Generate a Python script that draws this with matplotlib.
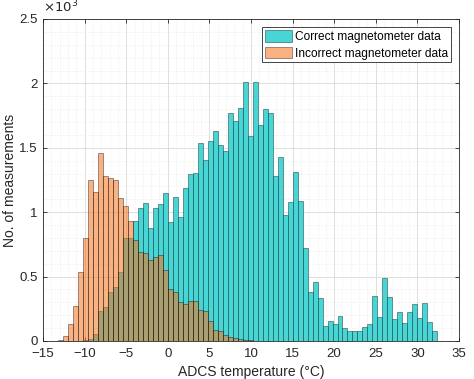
import numpy as np
import matplotlib
matplotlib.use("Agg")
import matplotlib.pyplot as plt
from matplotlib.ticker import MultipleLocator

# === histogram data (counts per 0.6 °C bin, first bin starts at -13.2 °C) ===
bin_start = -13.2
bin_width = 0.6

correct_counts = [
    0, 0, 0, 0, 0, 5, 13, 52, 233, 266,
    378, 422, 538, 800, 802, 932, 1030, 1075, 875, 1030,
    1062, 1147, 922, 1115, 962, 1190, 1299, 1302, 1540, 1405,
    1555, 1630, 1522, 1478, 1768, 1711, 1807, 2009, 1592, 2013,
    1675, 1799, 1773, 1281, 1426, 975, 1082, 1310, 1085, 720,
    377, 456, 331, 114, 155, 130, 195, 97, 80, 80,
    80, 111, 130, 352, 184, 487, 341, 170, 223, 137,
    223, 287, 181, 297, 150, 80,
]
incorrect_counts = [
    8, 39, 130, 272, 538, 797, 1250, 1154, 1462, 1281,
    1263, 1250, 1108, 1045, 932, 784, 693, 681, 627, 650,
    665, 551, 400, 380, 305, 290, 308, 310, 244, 235,
    157, 85, 80, 47, 33, 27, 18, 10, 5, 2,
    1, 0, 0, 0, 0, 0, 0, 0, 0, 0,
    0, 0, 0, 0, 0, 0, 0, 0, 0, 0,
    0, 0, 0, 0, 0, 0, 0, 0, 0, 0,
    0, 0, 0, 0, 0, 0,
]
labels = ["Correct magnetometer data", "Incorrect magnetometer data"]

edges = bin_start + bin_width * np.arange(len(correct_counts) + 1)

plt.rcParams['font.family'] = ['Liberation Sans', 'DejaVu Sans']
plt.rcParams['font.size'] = 9.5

fig = plt.figure(figsize=(4.74, 3.79), dpi=100)
ax = fig.add_axes([0.0907, 0.1003, 0.8776, 0.8496])

# === bars ===
ax.hist(edges[:-1], bins=edges, weights=correct_counts,
        color="#48d5d5", edgecolor=(0, 0.15, 0.15, 0.7), linewidth=0.45,
        label=labels[0], zorder=2)
ax.hist(edges[:-1], bins=edges, weights=incorrect_counts,
        color=(0.97, 0.45, 0.11, 0.55), edgecolor=(0, 0, 0, 0.6), linewidth=0.45,
        label=labels[1], zorder=3)

# === axes look (matlab-ish) ===
ax.set_xlim(-15, 35)
ax.set_ylim(0, 2500)
ax.set_xticks(np.arange(-15, 36, 5))
ax.set_yticks(np.arange(0, 2501, 500))
ax.set_yticklabels(["0", "0.5", "1", "1.5", "2", "2.5"])
ax.xaxis.set_minor_locator(MultipleLocator(1))
ax.yaxis.set_minor_locator(MultipleLocator(100))
ax.tick_params(which="both", direction="in", top=True, right=True,
               colors="#262626", labelcolor="#262626")
ax.tick_params(which="major", length=3, width=0.6)
ax.tick_params(which="minor", length=0)
ax.tick_params(axis="x", pad=5)
ax.tick_params(axis="y", pad=4)
ax.grid(which="major", color="#d9d9d9", linewidth=0.6, zorder=0)
ax.grid(which="minor", color="#ececec", linewidth=0.5, linestyle=(0, (2, 2)), zorder=0)
ax.set_axisbelow(True)
for s in ax.spines.values():
    s.set_color("#262626")
    s.set_linewidth(0.6)

ax.text(0.0, 1.01, r"$\times10^{3}$", transform=ax.transAxes,
        ha="left", va="bottom", fontsize=9.5, color="#262626")

ax.set_xlabel("ADCS temperature (°C)", fontsize=10, color="#262626", labelpad=4)
ax.set_ylabel("No. of measurements", fontsize=10, color="#262626")
ax.yaxis.set_label_coords(-0.062, 0.5)

leg = ax.legend(loc="upper right", fancybox=False, framealpha=1,
                edgecolor="#262626", borderpad=0.25, handlelength=2.2,
                handleheight=1.1, handletextpad=0.25, borderaxespad=0.7,
                labelspacing=0.3, fontsize=8.6)
leg.get_frame().set_linewidth(0.6)

fig.savefig("out.png", dpi=100)
